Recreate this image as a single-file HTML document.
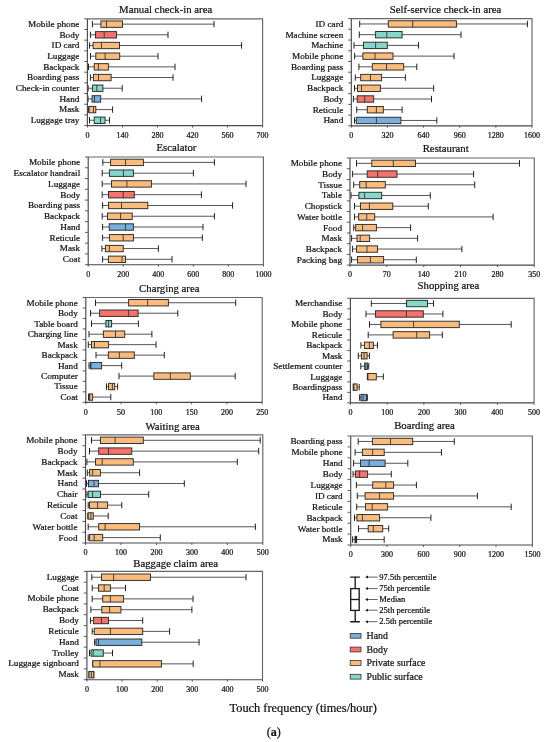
<!DOCTYPE html>
<html><head><meta charset="utf-8"><style>
html,body{margin:0;padding:0;background:#fff;width:550px;height:742px;overflow:hidden}
svg{display:block;will-change:transform}
text{font-family:"Liberation Serif",serif;fill:#111;stroke:#111;stroke-width:0.22px}
</style></head><body>
<svg width="550" height="742" viewBox="0 0 550 742">
<rect width="550" height="742" fill="#fff"/>
<text x="119.1" y="13" font-size="10.75">Manual check-in area</text>
<text x="79.4" y="27.04" font-size="9.2" text-anchor="end">Mobile phone</text>
<path d="M92.4 24.14H100.9M122.5 24.14H214" stroke="#555" stroke-width="1.0"/>
<path d="M92.4 20.94v6.4M214 20.94v6.4" stroke="#222" stroke-width="1.0"/>
<rect x="100.9" y="20.94" width="21.6" height="6.4" fill="#FBBB7C" stroke="#2a2a2a" stroke-width="0.95"/>
<path d="M106.5 20.94v6.4" stroke="#333" stroke-width="0.9"/>
<text x="79.4" y="37.72" font-size="9.2" text-anchor="end">Body</text>
<path d="M90.4 34.82H95.5M116.5 34.82H168" stroke="#555" stroke-width="1.0"/>
<path d="M90.4 31.62v6.4M168 31.62v6.4" stroke="#222" stroke-width="1.0"/>
<rect x="95.5" y="31.62" width="21" height="6.4" fill="#F5736A" stroke="#2a2a2a" stroke-width="0.95"/>
<path d="M104.2 31.62v6.4" stroke="#333" stroke-width="0.9"/>
<text x="79.4" y="48.4" font-size="9.2" text-anchor="end">ID card</text>
<path d="M89.6 45.5H93.1M119.5 45.5H241.6" stroke="#555" stroke-width="1.0"/>
<path d="M89.6 42.3v6.4M241.6 42.3v6.4" stroke="#222" stroke-width="1.0"/>
<rect x="93.1" y="42.3" width="26.4" height="6.4" fill="#FBBB7C" stroke="#2a2a2a" stroke-width="0.95"/>
<path d="M101.5 42.3v6.4" stroke="#333" stroke-width="0.9"/>
<text x="79.4" y="59.08" font-size="9.2" text-anchor="end">Luggage</text>
<path d="M90.5 56.18H95.8M119.7 56.18H158" stroke="#555" stroke-width="1.0"/>
<path d="M90.5 52.98v6.4M158 52.98v6.4" stroke="#222" stroke-width="1.0"/>
<rect x="95.8" y="52.98" width="23.9" height="6.4" fill="#FBBB7C" stroke="#2a2a2a" stroke-width="0.95"/>
<path d="M105.1 52.98v6.4" stroke="#333" stroke-width="0.9"/>
<text x="79.4" y="69.76" font-size="9.2" text-anchor="end">Backpack</text>
<path d="M88.5 66.86H94.2M108.4 66.86H175" stroke="#555" stroke-width="1.0"/>
<path d="M88.5 63.66v6.4M175 63.66v6.4" stroke="#222" stroke-width="1.0"/>
<rect x="94.2" y="63.66" width="14.2" height="6.4" fill="#FBBB7C" stroke="#2a2a2a" stroke-width="0.95"/>
<path d="M98.4 63.66v6.4" stroke="#333" stroke-width="0.9"/>
<text x="79.4" y="80.44" font-size="9.2" text-anchor="end">Boarding pass</text>
<path d="M90.4 77.54H93.4M111.1 77.54H173" stroke="#555" stroke-width="1.0"/>
<path d="M90.4 74.34v6.4M173 74.34v6.4" stroke="#222" stroke-width="1.0"/>
<rect x="93.4" y="74.34" width="17.7" height="6.4" fill="#FBBB7C" stroke="#2a2a2a" stroke-width="0.95"/>
<path d="M98.5 74.34v6.4" stroke="#333" stroke-width="0.9"/>
<text x="79.4" y="91.12" font-size="9.2" text-anchor="end">Check-in counter</text>
<path d="M88.1 88.22H92.6M102.9 88.22H122.2" stroke="#555" stroke-width="1.0"/>
<path d="M88.1 85.02v6.4M122.2 85.02v6.4" stroke="#222" stroke-width="1.0"/>
<rect x="92.6" y="85.02" width="10.3" height="6.4" fill="#84D8C9" stroke="#2a2a2a" stroke-width="0.95"/>
<path d="M96.8 85.02v6.4" stroke="#333" stroke-width="0.9"/>
<text x="79.4" y="101.8" font-size="9.2" text-anchor="end">Hand</text>
<path d="M88 98.9H92M100.7 98.9H201.6" stroke="#555" stroke-width="1.0"/>
<path d="M88 95.7v6.4M201.6 95.7v6.4" stroke="#222" stroke-width="1.0"/>
<rect x="92" y="95.7" width="8.7" height="6.4" fill="#79AEDD" stroke="#2a2a2a" stroke-width="0.95"/>
<path d="M94.5 95.7v6.4" stroke="#333" stroke-width="0.9"/>
<text x="79.4" y="112.48" font-size="9.2" text-anchor="end">Mask</text>
<path d="M88.3 109.58H89M95.8 109.58H112.6" stroke="#555" stroke-width="1.0"/>
<path d="M88.3 106.38v6.4M112.6 106.38v6.4" stroke="#222" stroke-width="1.0"/>
<rect x="89" y="106.38" width="6.8" height="6.4" fill="#FBBB7C" stroke="#2a2a2a" stroke-width="0.95"/>
<path d="M93.5 106.38v6.4" stroke="#333" stroke-width="0.9"/>
<text x="79.4" y="123.16" font-size="9.2" text-anchor="end">Luggage tray</text>
<path d="M89.5 120.26H94.2M105.1 120.26H109.5" stroke="#555" stroke-width="1.0"/>
<path d="M89.5 117.06v6.4M109.5 117.06v6.4" stroke="#222" stroke-width="1.0"/>
<rect x="94.2" y="117.06" width="10.9" height="6.4" fill="#84D8C9" stroke="#2a2a2a" stroke-width="0.95"/>
<path d="M100.5 117.06v6.4" stroke="#333" stroke-width="0.9"/>
<path d="M87.4 18.8h-3.2M87.4 29.48h-3.2M87.4 40.16h-3.2M87.4 50.84h-3.2M87.4 61.52h-3.2M87.4 72.2h-3.2M87.4 82.88h-3.2M87.4 93.56h-3.2M87.4 104.24h-3.2M87.4 114.92h-3.2M87.4 125.6h-3.2" stroke="#4a4a4a" stroke-width="0.9"/>
<path d="M87.4 18.8H262.6V125.6" stroke="#666" stroke-width="1.15" fill="none"/>
<path d="M87.4 18.8V125.6H262.6" stroke="#4a4a4a" stroke-width="1.15" fill="none"/>
<text x="87.4" y="137.9" font-size="8" text-anchor="middle">0</text>
<text x="122.44" y="137.9" font-size="8" text-anchor="middle">140</text>
<text x="157.48" y="137.9" font-size="8" text-anchor="middle">280</text>
<text x="192.52" y="137.9" font-size="8" text-anchor="middle">420</text>
<text x="227.56" y="137.9" font-size="8" text-anchor="middle">560</text>
<text x="262.6" y="137.9" font-size="8" text-anchor="middle">700</text>
<path d="M87.4 125.6v2M122.44 125.6v2M157.48 125.6v2M192.52 125.6v2M227.56 125.6v2M262.6 125.6v2" stroke="#4a4a4a" stroke-width="0.9"/>
<text x="389.7" y="12.8" font-size="10.75">Self-service check-in area</text>
<text x="343.3" y="26.86" font-size="9.2" text-anchor="end">ID card</text>
<path d="M359.7 23.96H388.3M456.4 23.96H527.4" stroke="#555" stroke-width="1.0"/>
<path d="M359.7 20.76v6.4M527.4 20.76v6.4" stroke="#222" stroke-width="1.0"/>
<rect x="388.3" y="20.76" width="68.1" height="6.4" fill="#FBBB7C" stroke="#2a2a2a" stroke-width="0.95"/>
<path d="M412.7 20.76v6.4" stroke="#333" stroke-width="0.9"/>
<text x="343.3" y="37.58" font-size="9.2" text-anchor="end">Machine screen</text>
<path d="M359.3 34.68H375.6M402.1 34.68H461" stroke="#555" stroke-width="1.0"/>
<path d="M359.3 31.48v6.4M461 31.48v6.4" stroke="#222" stroke-width="1.0"/>
<rect x="375.6" y="31.48" width="26.5" height="6.4" fill="#84D8C9" stroke="#2a2a2a" stroke-width="0.95"/>
<path d="M386.8 31.48v6.4" stroke="#333" stroke-width="0.9"/>
<text x="343.3" y="48.3" font-size="9.2" text-anchor="end">Machine</text>
<path d="M354 45.4H363.5M387.3 45.4H418.5" stroke="#555" stroke-width="1.0"/>
<path d="M354 42.2v6.4M418.5 42.2v6.4" stroke="#222" stroke-width="1.0"/>
<rect x="363.5" y="42.2" width="23.8" height="6.4" fill="#84D8C9" stroke="#2a2a2a" stroke-width="0.95"/>
<path d="M375.6 42.2v6.4" stroke="#333" stroke-width="0.9"/>
<text x="343.3" y="59.02" font-size="9.2" text-anchor="end">Mobile phone</text>
<path d="M354.6 56.12H362.9M393 56.12H454" stroke="#555" stroke-width="1.0"/>
<path d="M354.6 52.92v6.4M454 52.92v6.4" stroke="#222" stroke-width="1.0"/>
<rect x="362.9" y="52.92" width="30.1" height="6.4" fill="#FBBB7C" stroke="#2a2a2a" stroke-width="0.95"/>
<path d="M375 52.92v6.4" stroke="#333" stroke-width="0.9"/>
<text x="343.3" y="69.74" font-size="9.2" text-anchor="end">Boarding pass</text>
<path d="M358.9 66.84H372.3M403.7 66.84H416.8" stroke="#555" stroke-width="1.0"/>
<path d="M358.9 63.64v6.4M416.8 63.64v6.4" stroke="#222" stroke-width="1.0"/>
<rect x="372.3" y="63.64" width="31.4" height="6.4" fill="#FBBB7C" stroke="#2a2a2a" stroke-width="0.95"/>
<path d="M386.5 63.64v6.4" stroke="#333" stroke-width="0.9"/>
<text x="343.3" y="80.46" font-size="9.2" text-anchor="end">Luggage</text>
<path d="M355.3 77.56H360.7M381.6 77.56H405.4" stroke="#555" stroke-width="1.0"/>
<path d="M355.3 74.36v6.4M405.4 74.36v6.4" stroke="#222" stroke-width="1.0"/>
<rect x="360.7" y="74.36" width="20.9" height="6.4" fill="#FBBB7C" stroke="#2a2a2a" stroke-width="0.95"/>
<path d="M370.5 74.36v6.4" stroke="#333" stroke-width="0.9"/>
<text x="343.3" y="91.18" font-size="9.2" text-anchor="end">Backpack</text>
<path d="M354.5 88.28H357.5M380.4 88.28H433.7" stroke="#555" stroke-width="1.0"/>
<path d="M354.5 85.08v6.4M433.7 85.08v6.4" stroke="#222" stroke-width="1.0"/>
<rect x="357.5" y="85.08" width="22.9" height="6.4" fill="#FBBB7C" stroke="#2a2a2a" stroke-width="0.95"/>
<path d="M361.5 85.08v6.4" stroke="#333" stroke-width="0.9"/>
<text x="343.3" y="101.9" font-size="9.2" text-anchor="end">Body</text>
<path d="M353.4 99H357.2M373.7 99H431.5" stroke="#555" stroke-width="1.0"/>
<path d="M353.4 95.8v6.4M431.5 95.8v6.4" stroke="#222" stroke-width="1.0"/>
<rect x="357.2" y="95.8" width="16.5" height="6.4" fill="#F5736A" stroke="#2a2a2a" stroke-width="0.95"/>
<path d="M364.7 95.8v6.4" stroke="#333" stroke-width="0.9"/>
<text x="343.3" y="112.62" font-size="9.2" text-anchor="end">Reticule</text>
<path d="M356.7 109.72H367.3M383.3 109.72H402.1" stroke="#555" stroke-width="1.0"/>
<path d="M356.7 106.52v6.4M402.1 106.52v6.4" stroke="#222" stroke-width="1.0"/>
<rect x="367.3" y="106.52" width="16" height="6.4" fill="#FBBB7C" stroke="#2a2a2a" stroke-width="0.95"/>
<path d="M376.4 106.52v6.4" stroke="#333" stroke-width="0.9"/>
<text x="343.3" y="123.34" font-size="9.2" text-anchor="end">Hand</text>
<path d="M354.5 120.44H356.3M400.9 120.44H436.8" stroke="#555" stroke-width="1.0"/>
<path d="M354.5 117.24v6.4M436.8 117.24v6.4" stroke="#222" stroke-width="1.0"/>
<rect x="356.3" y="117.24" width="44.6" height="6.4" fill="#79AEDD" stroke="#2a2a2a" stroke-width="0.95"/>
<path d="M376.4 117.24v6.4" stroke="#333" stroke-width="0.9"/>
<path d="M351.3 18.6h-3.2M351.3 29.32h-3.2M351.3 40.04h-3.2M351.3 50.76h-3.2M351.3 61.48h-3.2M351.3 72.2h-3.2M351.3 82.92h-3.2M351.3 93.64h-3.2M351.3 104.36h-3.2M351.3 115.08h-3.2M351.3 125.8h-3.2" stroke="#4a4a4a" stroke-width="0.9"/>
<path d="M351.3 18.6H532V125.8" stroke="#666" stroke-width="1.15" fill="none"/>
<path d="M351.3 18.6V125.8H532" stroke="#4a4a4a" stroke-width="1.15" fill="none"/>
<text x="351.3" y="138.1" font-size="8" text-anchor="middle">0</text>
<text x="387.44" y="138.1" font-size="8" text-anchor="middle">320</text>
<text x="423.58" y="138.1" font-size="8" text-anchor="middle">640</text>
<text x="459.72" y="138.1" font-size="8" text-anchor="middle">960</text>
<text x="495.86" y="138.1" font-size="8" text-anchor="middle">1280</text>
<text x="532" y="138.1" font-size="8" text-anchor="middle">1600</text>
<path d="M351.3 125.8v2M387.44 125.8v2M423.58 125.8v2M459.72 125.8v2M495.86 125.8v2M532 125.8v2" stroke="#4a4a4a" stroke-width="0.9"/>
<text x="156.4" y="150.5" font-size="10.75">Escalator</text>
<text x="80.2" y="165.28" font-size="9.2" text-anchor="end">Mobile phone</text>
<path d="M102.8 162.38H110.6M143.4 162.38H214.4" stroke="#555" stroke-width="1.0"/>
<path d="M102.8 159.19v6.4M214.4 159.19v6.4" stroke="#222" stroke-width="1.0"/>
<rect x="110.6" y="159.19" width="32.8" height="6.4" fill="#FBBB7C" stroke="#2a2a2a" stroke-width="0.95"/>
<path d="M125.5 159.19v6.4" stroke="#333" stroke-width="0.9"/>
<text x="80.2" y="176.06" font-size="9.2" text-anchor="end">Escalator handrail</text>
<path d="M102.2 173.16H109.4M133.4 173.16H193.4" stroke="#555" stroke-width="1.0"/>
<path d="M102.2 169.96v6.4M193.4 169.96v6.4" stroke="#222" stroke-width="1.0"/>
<rect x="109.4" y="169.96" width="24" height="6.4" fill="#84D8C9" stroke="#2a2a2a" stroke-width="0.95"/>
<path d="M123.4 169.96v6.4" stroke="#333" stroke-width="0.9"/>
<text x="80.2" y="186.83" font-size="9.2" text-anchor="end">Luggage</text>
<path d="M102.2 183.93H111.5M151.4 183.93H246" stroke="#555" stroke-width="1.0"/>
<path d="M102.2 180.73v6.4M246 180.73v6.4" stroke="#222" stroke-width="1.0"/>
<rect x="111.5" y="180.73" width="39.9" height="6.4" fill="#FBBB7C" stroke="#2a2a2a" stroke-width="0.95"/>
<path d="M126.9 180.73v6.4" stroke="#333" stroke-width="0.9"/>
<text x="80.2" y="197.59" font-size="9.2" text-anchor="end">Body</text>
<path d="M102.2 194.69H108.5M134.3 194.69H201.4" stroke="#555" stroke-width="1.0"/>
<path d="M102.2 191.5v6.4M201.4 191.5v6.4" stroke="#222" stroke-width="1.0"/>
<rect x="108.5" y="191.5" width="25.8" height="6.4" fill="#F5736A" stroke="#2a2a2a" stroke-width="0.95"/>
<path d="M123.2 191.5v6.4" stroke="#333" stroke-width="0.9"/>
<text x="80.2" y="208.37" font-size="9.2" text-anchor="end">Boarding pass</text>
<path d="M102.6 205.47H108.5M147.8 205.47H232.6" stroke="#555" stroke-width="1.0"/>
<path d="M102.6 202.27v6.4M232.6 202.27v6.4" stroke="#222" stroke-width="1.0"/>
<rect x="108.5" y="202.27" width="39.3" height="6.4" fill="#FBBB7C" stroke="#2a2a2a" stroke-width="0.95"/>
<path d="M121.5 202.27v6.4" stroke="#333" stroke-width="0.9"/>
<text x="80.2" y="219.14" font-size="9.2" text-anchor="end">Backpack</text>
<path d="M102.2 216.24H107.5M132.2 216.24H214.4" stroke="#555" stroke-width="1.0"/>
<path d="M102.2 213.04v6.4M214.4 213.04v6.4" stroke="#222" stroke-width="1.0"/>
<rect x="107.5" y="213.04" width="24.7" height="6.4" fill="#FBBB7C" stroke="#2a2a2a" stroke-width="0.95"/>
<path d="M120.6 213.04v6.4" stroke="#333" stroke-width="0.9"/>
<text x="80.2" y="229.91" font-size="9.2" text-anchor="end">Hand</text>
<path d="M102.6 227H109.2M133.4 227H203" stroke="#555" stroke-width="1.0"/>
<path d="M102.6 223.81v6.4M203 223.81v6.4" stroke="#222" stroke-width="1.0"/>
<rect x="109.2" y="223.81" width="24.2" height="6.4" fill="#79AEDD" stroke="#2a2a2a" stroke-width="0.95"/>
<path d="M125.5 223.81v6.4" stroke="#333" stroke-width="0.9"/>
<text x="80.2" y="240.67" font-size="9.2" text-anchor="end">Reticule</text>
<path d="M102.6 237.77H109.4M133.4 237.77H202.4" stroke="#555" stroke-width="1.0"/>
<path d="M102.6 234.57v6.4M202.4 234.57v6.4" stroke="#222" stroke-width="1.0"/>
<rect x="109.4" y="234.57" width="24" height="6.4" fill="#FBBB7C" stroke="#2a2a2a" stroke-width="0.95"/>
<path d="M123.2 234.57v6.4" stroke="#333" stroke-width="0.9"/>
<text x="80.2" y="251.45" font-size="9.2" text-anchor="end">Mask</text>
<path d="M101.9 248.55H105.4M123.2 248.55H158.4" stroke="#555" stroke-width="1.0"/>
<path d="M101.9 245.35v6.4M158.4 245.35v6.4" stroke="#222" stroke-width="1.0"/>
<rect x="105.4" y="245.35" width="17.8" height="6.4" fill="#FBBB7C" stroke="#2a2a2a" stroke-width="0.95"/>
<path d="M109.4 245.35v6.4" stroke="#333" stroke-width="0.9"/>
<text x="80.2" y="262.21" font-size="9.2" text-anchor="end">Coat</text>
<path d="M102.6 259.31H108.4M125.5 259.31H172" stroke="#555" stroke-width="1.0"/>
<path d="M102.6 256.12v6.4M172 256.12v6.4" stroke="#222" stroke-width="1.0"/>
<rect x="108.4" y="256.12" width="17.1" height="6.4" fill="#FBBB7C" stroke="#2a2a2a" stroke-width="0.95"/>
<path d="M122 256.12v6.4" stroke="#333" stroke-width="0.9"/>
<path d="M88.2 157h-3.2M88.2 167.77h-3.2M88.2 178.54h-3.2M88.2 189.31h-3.2M88.2 200.08h-3.2M88.2 210.85h-3.2M88.2 221.62h-3.2M88.2 232.39h-3.2M88.2 243.16h-3.2M88.2 253.93h-3.2M88.2 264.7h-3.2" stroke="#4a4a4a" stroke-width="0.9"/>
<path d="M88.2 157H263.4V264.7" stroke="#666" stroke-width="1.15" fill="none"/>
<path d="M88.2 157V264.7H263.4" stroke="#4a4a4a" stroke-width="1.15" fill="none"/>
<text x="88.2" y="277" font-size="8" text-anchor="middle">0</text>
<text x="123.24" y="277" font-size="8" text-anchor="middle">200</text>
<text x="158.28" y="277" font-size="8" text-anchor="middle">400</text>
<text x="193.32" y="277" font-size="8" text-anchor="middle">600</text>
<text x="228.36" y="277" font-size="8" text-anchor="middle">800</text>
<text x="263.4" y="277" font-size="8" text-anchor="middle">1000</text>
<path d="M88.2 264.7v2M123.24 264.7v2M158.28 264.7v2M193.32 264.7v2M228.36 264.7v2M263.4 264.7v2" stroke="#4a4a4a" stroke-width="0.9"/>
<text x="422.7" y="151.9" font-size="10.75">Restaurant</text>
<text x="342" y="166.25" font-size="9.2" text-anchor="end">Mobile phone</text>
<path d="M356.5 163.35H371.8M415.5 163.35H519.5" stroke="#555" stroke-width="1.0"/>
<path d="M356.5 160.16v6.4M519.5 160.16v6.4" stroke="#222" stroke-width="1.0"/>
<rect x="371.8" y="160.16" width="43.7" height="6.4" fill="#FBBB7C" stroke="#2a2a2a" stroke-width="0.95"/>
<path d="M393.3 160.16v6.4" stroke="#333" stroke-width="0.9"/>
<text x="342" y="176.97" font-size="9.2" text-anchor="end">Body</text>
<path d="M352.6 174.06H367.2M397 174.06H473.6" stroke="#555" stroke-width="1.0"/>
<path d="M352.6 170.87v6.4M473.6 170.87v6.4" stroke="#222" stroke-width="1.0"/>
<rect x="367.2" y="170.87" width="29.8" height="6.4" fill="#F5736A" stroke="#2a2a2a" stroke-width="0.95"/>
<path d="M377.7 170.87v6.4" stroke="#333" stroke-width="0.9"/>
<text x="342" y="187.68" font-size="9.2" text-anchor="end">Tissue</text>
<path d="M353.7 184.78H359.7M385.3 184.78H474.7" stroke="#555" stroke-width="1.0"/>
<path d="M353.7 181.58v6.4M474.7 181.58v6.4" stroke="#222" stroke-width="1.0"/>
<rect x="359.7" y="181.58" width="25.6" height="6.4" fill="#FBBB7C" stroke="#2a2a2a" stroke-width="0.95"/>
<path d="M366.2 181.58v6.4" stroke="#333" stroke-width="0.9"/>
<text x="342" y="198.39" font-size="9.2" text-anchor="end">Table</text>
<path d="M351 195.49H358.9M381.7 195.49H430.3" stroke="#555" stroke-width="1.0"/>
<path d="M351 192.29v6.4M430.3 192.29v6.4" stroke="#222" stroke-width="1.0"/>
<rect x="358.9" y="192.29" width="22.8" height="6.4" fill="#84D8C9" stroke="#2a2a2a" stroke-width="0.95"/>
<path d="M364.6 192.29v6.4" stroke="#333" stroke-width="0.9"/>
<text x="342" y="209.1" font-size="9.2" text-anchor="end">Chopstick</text>
<path d="M354.5 206.2H360.5M392.8 206.2H428.3" stroke="#555" stroke-width="1.0"/>
<path d="M354.5 203v6.4M428.3 203v6.4" stroke="#222" stroke-width="1.0"/>
<rect x="360.5" y="203" width="32.3" height="6.4" fill="#FBBB7C" stroke="#2a2a2a" stroke-width="0.95"/>
<path d="M369.4 203v6.4" stroke="#333" stroke-width="0.9"/>
<text x="342" y="219.81" font-size="9.2" text-anchor="end">Water bottle</text>
<path d="M354.5 216.91H358.6M374.7 216.91H493.1" stroke="#555" stroke-width="1.0"/>
<path d="M354.5 213.71v6.4M493.1 213.71v6.4" stroke="#222" stroke-width="1.0"/>
<rect x="358.6" y="213.71" width="16.1" height="6.4" fill="#FBBB7C" stroke="#2a2a2a" stroke-width="0.95"/>
<path d="M366.7 213.71v6.4" stroke="#333" stroke-width="0.9"/>
<text x="342" y="230.52" font-size="9.2" text-anchor="end">Food</text>
<path d="M353.7 227.62H355.7M376.4 227.62H410.6" stroke="#555" stroke-width="1.0"/>
<path d="M353.7 224.42v6.4M410.6 224.42v6.4" stroke="#222" stroke-width="1.0"/>
<rect x="355.7" y="224.42" width="20.7" height="6.4" fill="#FBBB7C" stroke="#2a2a2a" stroke-width="0.95"/>
<path d="M362.6 224.42v6.4" stroke="#333" stroke-width="0.9"/>
<text x="342" y="241.23" font-size="9.2" text-anchor="end">Mask</text>
<path d="M351.6 238.33H357M369.6 238.33H417.6" stroke="#555" stroke-width="1.0"/>
<path d="M351.6 235.13v6.4M417.6 235.13v6.4" stroke="#222" stroke-width="1.0"/>
<rect x="357" y="235.13" width="12.6" height="6.4" fill="#FBBB7C" stroke="#2a2a2a" stroke-width="0.95"/>
<path d="M360.2 235.13v6.4" stroke="#333" stroke-width="0.9"/>
<text x="342" y="251.94" font-size="9.2" text-anchor="end">Backpack</text>
<path d="M352.6 249.04H356.5M377.5 249.04H461.9" stroke="#555" stroke-width="1.0"/>
<path d="M352.6 245.84v6.4M461.9 245.84v6.4" stroke="#222" stroke-width="1.0"/>
<rect x="356.5" y="245.84" width="21" height="6.4" fill="#FBBB7C" stroke="#2a2a2a" stroke-width="0.95"/>
<path d="M367 245.84v6.4" stroke="#333" stroke-width="0.9"/>
<text x="342" y="262.64" font-size="9.2" text-anchor="end">Packing bag</text>
<path d="M351.6 259.75H357.5M383.6 259.75H416.3" stroke="#555" stroke-width="1.0"/>
<path d="M351.6 256.55v6.4M416.3 256.55v6.4" stroke="#222" stroke-width="1.0"/>
<rect x="357.5" y="256.55" width="26.1" height="6.4" fill="#FBBB7C" stroke="#2a2a2a" stroke-width="0.95"/>
<path d="M370.4 256.55v6.4" stroke="#333" stroke-width="0.9"/>
<path d="M350 158h-3.2M350 168.71h-3.2M350 179.42h-3.2M350 190.13h-3.2M350 200.84h-3.2M350 211.55h-3.2M350 222.26h-3.2M350 232.97h-3.2M350 243.68h-3.2M350 254.39h-3.2M350 265.1h-3.2" stroke="#4a4a4a" stroke-width="0.9"/>
<path d="M350 158H534.3V265.1" stroke="#666" stroke-width="1.15" fill="none"/>
<path d="M350 158V265.1H534.3" stroke="#4a4a4a" stroke-width="1.15" fill="none"/>
<text x="350" y="277.4" font-size="8" text-anchor="middle">0</text>
<text x="386.86" y="277.4" font-size="8" text-anchor="middle">70</text>
<text x="423.72" y="277.4" font-size="8" text-anchor="middle">140</text>
<text x="460.58" y="277.4" font-size="8" text-anchor="middle">210</text>
<text x="497.44" y="277.4" font-size="8" text-anchor="middle">280</text>
<text x="534.3" y="277.4" font-size="8" text-anchor="middle">350</text>
<path d="M350 265.1v2M386.86 265.1v2M423.72 265.1v2M460.58 265.1v2M497.44 265.1v2M534.3 265.1v2" stroke="#4a4a4a" stroke-width="0.9"/>
<text x="139.1" y="291.7" font-size="10.75">Charging area</text>
<text x="77.8" y="305.64" font-size="9.2" text-anchor="end">Mobile phone</text>
<path d="M95.5 302.74H128.6M168.4 302.74H235.7" stroke="#555" stroke-width="1.0"/>
<path d="M95.5 299.54v6.4M235.7 299.54v6.4" stroke="#222" stroke-width="1.0"/>
<rect x="128.6" y="299.54" width="39.8" height="6.4" fill="#FBBB7C" stroke="#2a2a2a" stroke-width="0.95"/>
<path d="M147.7 299.54v6.4" stroke="#333" stroke-width="0.9"/>
<text x="77.8" y="316.12" font-size="9.2" text-anchor="end">Body</text>
<path d="M90.6 313.22H99.6M138.1 313.22H177.8" stroke="#555" stroke-width="1.0"/>
<path d="M90.6 310.02v6.4M177.8 310.02v6.4" stroke="#222" stroke-width="1.0"/>
<rect x="99.6" y="310.02" width="38.5" height="6.4" fill="#F5736A" stroke="#2a2a2a" stroke-width="0.95"/>
<path d="M128.6 310.02v6.4" stroke="#333" stroke-width="0.9"/>
<text x="77.8" y="326.6" font-size="9.2" text-anchor="end">Table board</text>
<path d="M91.5 323.7H105.9M111.6 323.7H138.4" stroke="#555" stroke-width="1.0"/>
<path d="M91.5 320.5v6.4M138.4 320.5v6.4" stroke="#222" stroke-width="1.0"/>
<rect x="105.9" y="320.5" width="5.7" height="6.4" fill="#84D8C9" stroke="#2a2a2a" stroke-width="0.95"/>
<path d="M108.6 320.5v6.4" stroke="#333" stroke-width="0.9"/>
<text x="77.8" y="337.08" font-size="9.2" text-anchor="end">Charging line</text>
<path d="M89 334.18H103.4M124.7 334.18H151.9" stroke="#555" stroke-width="1.0"/>
<path d="M89 330.98v6.4M151.9 330.98v6.4" stroke="#222" stroke-width="1.0"/>
<rect x="103.4" y="330.98" width="21.3" height="6.4" fill="#FBBB7C" stroke="#2a2a2a" stroke-width="0.95"/>
<path d="M115.5 330.98v6.4" stroke="#333" stroke-width="0.9"/>
<text x="77.8" y="347.56" font-size="9.2" text-anchor="end">Mask</text>
<path d="M88.3 344.66H91.5M108.6 344.66H156" stroke="#555" stroke-width="1.0"/>
<path d="M88.3 341.46v6.4M156 341.46v6.4" stroke="#222" stroke-width="1.0"/>
<rect x="91.5" y="341.46" width="17.1" height="6.4" fill="#FBBB7C" stroke="#2a2a2a" stroke-width="0.95"/>
<path d="M94.5 341.46v6.4" stroke="#333" stroke-width="0.9"/>
<text x="77.8" y="358.04" font-size="9.2" text-anchor="end">Backpack</text>
<path d="M96 355.14H108.3M134.3 355.14H164.3" stroke="#555" stroke-width="1.0"/>
<path d="M96 351.94v6.4M164.3 351.94v6.4" stroke="#222" stroke-width="1.0"/>
<rect x="108.3" y="351.94" width="26" height="6.4" fill="#FBBB7C" stroke="#2a2a2a" stroke-width="0.95"/>
<path d="M119.3 351.94v6.4" stroke="#333" stroke-width="0.9"/>
<text x="77.8" y="368.52" font-size="9.2" text-anchor="end">Hand</text>
<path d="M89 365.62H90.3M101.6 365.62H121.7" stroke="#555" stroke-width="1.0"/>
<path d="M89 362.42v6.4M121.7 362.42v6.4" stroke="#222" stroke-width="1.0"/>
<rect x="90.3" y="362.42" width="11.3" height="6.4" fill="#79AEDD" stroke="#2a2a2a" stroke-width="0.95"/>
<path d="M91 362.42v6.4" stroke="#333" stroke-width="0.9"/>
<text x="77.8" y="379" font-size="9.2" text-anchor="end">Computer</text>
<path d="M119 376.1H153.8M190.3 376.1H235.2" stroke="#555" stroke-width="1.0"/>
<path d="M119 372.9v6.4M235.2 372.9v6.4" stroke="#222" stroke-width="1.0"/>
<rect x="153.8" y="372.9" width="36.5" height="6.4" fill="#FBBB7C" stroke="#2a2a2a" stroke-width="0.95"/>
<path d="M170.3 372.9v6.4" stroke="#333" stroke-width="0.9"/>
<text x="77.8" y="389.48" font-size="9.2" text-anchor="end">Tissue</text>
<path d="M106.5 386.58H108.6M114.7 386.58H117.6" stroke="#555" stroke-width="1.0"/>
<path d="M106.5 383.38v6.4M117.6 383.38v6.4" stroke="#222" stroke-width="1.0"/>
<rect x="108.6" y="383.38" width="6.1" height="6.4" fill="#FBBB7C" stroke="#2a2a2a" stroke-width="0.95"/>
<path d="M112.4 383.38v6.4" stroke="#333" stroke-width="0.9"/>
<text x="77.8" y="399.96" font-size="9.2" text-anchor="end">Coat</text>
<path d="M88.5 397.06H89M92.6 397.06H110.8" stroke="#555" stroke-width="1.0"/>
<path d="M88.5 393.86v6.4M110.8 393.86v6.4" stroke="#222" stroke-width="1.0"/>
<rect x="89" y="393.86" width="3.6" height="6.4" fill="#FBBB7C" stroke="#2a2a2a" stroke-width="0.95"/>
<path d="M89.8 393.86v6.4" stroke="#333" stroke-width="0.9"/>
<path d="M85.8 297.5h-3.2M85.8 307.98h-3.2M85.8 318.46h-3.2M85.8 328.94h-3.2M85.8 339.42h-3.2M85.8 349.9h-3.2M85.8 360.38h-3.2M85.8 370.86h-3.2M85.8 381.34h-3.2M85.8 391.82h-3.2M85.8 402.3h-3.2" stroke="#4a4a4a" stroke-width="0.9"/>
<path d="M85.8 297.5H262.2V402.3" stroke="#666" stroke-width="1.15" fill="none"/>
<path d="M85.8 297.5V402.3H262.2" stroke="#4a4a4a" stroke-width="1.15" fill="none"/>
<text x="85.8" y="414.6" font-size="8" text-anchor="middle">0</text>
<text x="121.08" y="414.6" font-size="8" text-anchor="middle">50</text>
<text x="156.36" y="414.6" font-size="8" text-anchor="middle">100</text>
<text x="191.64" y="414.6" font-size="8" text-anchor="middle">150</text>
<text x="226.92" y="414.6" font-size="8" text-anchor="middle">200</text>
<text x="262.2" y="414.6" font-size="8" text-anchor="middle">250</text>
<path d="M85.8 402.3v2M121.08 402.3v2M156.36 402.3v2M191.64 402.3v2M226.92 402.3v2M262.2 402.3v2" stroke="#4a4a4a" stroke-width="0.9"/>
<text x="417.6" y="288.6" font-size="10.75">Shopping area</text>
<text x="342.4" y="306.43" font-size="9.2" text-anchor="end">Merchandise</text>
<path d="M371.3 303.53H406.4M427.5 303.53H433.5" stroke="#555" stroke-width="1.0"/>
<path d="M371.3 300.33v6.4M433.5 300.33v6.4" stroke="#222" stroke-width="1.0"/>
<rect x="406.4" y="300.33" width="21.1" height="6.4" fill="#84D8C9" stroke="#2a2a2a" stroke-width="0.95"/>
<path d="M406.6 300.33v6.4" stroke="#333" stroke-width="0.9"/>
<text x="342.4" y="316.88" font-size="9.2" text-anchor="end">Body</text>
<path d="M366 313.98H375.5M423.3 313.98H442.9" stroke="#555" stroke-width="1.0"/>
<path d="M366 310.78v6.4M442.9 310.78v6.4" stroke="#222" stroke-width="1.0"/>
<rect x="375.5" y="310.78" width="47.8" height="6.4" fill="#F5736A" stroke="#2a2a2a" stroke-width="0.95"/>
<path d="M406.4 310.78v6.4" stroke="#333" stroke-width="0.9"/>
<text x="342.4" y="327.32" font-size="9.2" text-anchor="end">Mobile phone</text>
<path d="M369.5 324.43H380.9M459.3 324.43H511.2" stroke="#555" stroke-width="1.0"/>
<path d="M369.5 321.23v6.4M511.2 321.23v6.4" stroke="#222" stroke-width="1.0"/>
<rect x="380.9" y="321.23" width="78.4" height="6.4" fill="#FBBB7C" stroke="#2a2a2a" stroke-width="0.95"/>
<path d="M413.6 321.23v6.4" stroke="#333" stroke-width="0.9"/>
<text x="342.4" y="337.77" font-size="9.2" text-anchor="end">Reticule</text>
<path d="M368.2 334.88H393.1M429.6 334.88H442.3" stroke="#555" stroke-width="1.0"/>
<path d="M368.2 331.68v6.4M442.3 331.68v6.4" stroke="#222" stroke-width="1.0"/>
<rect x="393.1" y="331.68" width="36.5" height="6.4" fill="#FBBB7C" stroke="#2a2a2a" stroke-width="0.95"/>
<path d="M416.7 331.68v6.4" stroke="#333" stroke-width="0.9"/>
<text x="342.4" y="348.22" font-size="9.2" text-anchor="end">Backpack</text>
<path d="M360.9 345.32H364.4M373.4 345.32H377.5" stroke="#555" stroke-width="1.0"/>
<path d="M360.9 342.12v6.4M377.5 342.12v6.4" stroke="#222" stroke-width="1.0"/>
<rect x="364.4" y="342.12" width="9" height="6.4" fill="#FBBB7C" stroke="#2a2a2a" stroke-width="0.95"/>
<path d="M369.4 342.12v6.4" stroke="#333" stroke-width="0.9"/>
<text x="342.4" y="358.67" font-size="9.2" text-anchor="end">Mask</text>
<path d="M358.3 355.77H361.4M367.1 355.77H369.4" stroke="#555" stroke-width="1.0"/>
<path d="M358.3 352.57v6.4M369.4 352.57v6.4" stroke="#222" stroke-width="1.0"/>
<rect x="361.4" y="352.57" width="5.7" height="6.4" fill="#FBBB7C" stroke="#2a2a2a" stroke-width="0.95"/>
<path d="M364.1 352.57v6.4" stroke="#333" stroke-width="0.9"/>
<text x="342.4" y="369.12" font-size="9.2" text-anchor="end">Settlement counter</text>
<path d="M360.8 366.23H364.6M367.4 366.23H368.7" stroke="#555" stroke-width="1.0"/>
<path d="M360.8 363.03v6.4M368.7 363.03v6.4" stroke="#222" stroke-width="1.0"/>
<rect x="364.6" y="363.03" width="2.8" height="6.4" fill="#84D8C9" stroke="#2a2a2a" stroke-width="0.95"/>
<path d="M365.8 363.03v6.4" stroke="#333" stroke-width="0.9"/>
<text x="342.4" y="379.57" font-size="9.2" text-anchor="end">Luggage</text>
<path d="M367.4 376.68H367.4M376.3 376.68H383.3" stroke="#555" stroke-width="1.0"/>
<path d="M367.4 373.48v6.4M383.3 373.48v6.4" stroke="#222" stroke-width="1.0"/>
<rect x="367.4" y="373.48" width="8.9" height="6.4" fill="#FBBB7C" stroke="#2a2a2a" stroke-width="0.95"/>
<path d="M367.9 373.48v6.4" stroke="#333" stroke-width="0.9"/>
<text x="342.4" y="390.02" font-size="9.2" text-anchor="end">Boardingpass</text>
<path d="M353.3 387.12H353.3M357.1 387.12H359.2" stroke="#555" stroke-width="1.0"/>
<path d="M353.3 383.93v6.4M359.2 383.93v6.4" stroke="#222" stroke-width="1.0"/>
<rect x="353.3" y="383.93" width="3.8" height="6.4" fill="#FBBB7C" stroke="#2a2a2a" stroke-width="0.95"/>
<path d="M353.9 383.93v6.4" stroke="#333" stroke-width="0.9"/>
<text x="342.4" y="400.47" font-size="9.2" text-anchor="end">Hand</text>
<path d="M359.6 397.57H360.9M366.4 397.57H367.4" stroke="#555" stroke-width="1.0"/>
<path d="M359.6 394.38v6.4M367.4 394.38v6.4" stroke="#222" stroke-width="1.0"/>
<rect x="360.9" y="394.38" width="5.5" height="6.4" fill="#79AEDD" stroke="#2a2a2a" stroke-width="0.95"/>
<path d="M363.1 394.38v6.4" stroke="#333" stroke-width="0.9"/>
<path d="M350.4 298.3h-3.2M350.4 308.75h-3.2M350.4 319.2h-3.2M350.4 329.65h-3.2M350.4 340.1h-3.2M350.4 350.55h-3.2M350.4 361h-3.2M350.4 371.45h-3.2M350.4 381.9h-3.2M350.4 392.35h-3.2M350.4 402.8h-3.2" stroke="#4a4a4a" stroke-width="0.9"/>
<path d="M350.4 298.3H534.1V402.8" stroke="#666" stroke-width="1.15" fill="none"/>
<path d="M350.4 298.3V402.8H534.1" stroke="#4a4a4a" stroke-width="1.15" fill="none"/>
<text x="350.4" y="415.1" font-size="8" text-anchor="middle">0</text>
<text x="387.14" y="415.1" font-size="8" text-anchor="middle">100</text>
<text x="423.88" y="415.1" font-size="8" text-anchor="middle">200</text>
<text x="460.62" y="415.1" font-size="8" text-anchor="middle">300</text>
<text x="497.36" y="415.1" font-size="8" text-anchor="middle">400</text>
<text x="534.1" y="415.1" font-size="8" text-anchor="middle">500</text>
<path d="M350.4 402.8v2M387.14 402.8v2M423.88 402.8v2M460.62 402.8v2M497.36 402.8v2M534.1 402.8v2" stroke="#4a4a4a" stroke-width="0.9"/>
<text x="145.5" y="429.6" font-size="10.75">Waiting area</text>
<text x="77.5" y="443.2" font-size="9.2" text-anchor="end">Mobile phone</text>
<path d="M91.5 440.3H100.4M143.3 440.3H260.2" stroke="#555" stroke-width="1.0"/>
<path d="M91.5 437.1v6.4M260.2 437.1v6.4" stroke="#222" stroke-width="1.0"/>
<rect x="100.4" y="437.1" width="42.9" height="6.4" fill="#FBBB7C" stroke="#2a2a2a" stroke-width="0.95"/>
<path d="M115.1 437.1v6.4" stroke="#333" stroke-width="0.9"/>
<text x="77.5" y="454.01" font-size="9.2" text-anchor="end">Body</text>
<path d="M89.5 451.12H98.7M131.8 451.12H258.7" stroke="#555" stroke-width="1.0"/>
<path d="M89.5 447.92v6.4M258.7 447.92v6.4" stroke="#222" stroke-width="1.0"/>
<rect x="98.7" y="447.92" width="33.1" height="6.4" fill="#F5736A" stroke="#2a2a2a" stroke-width="0.95"/>
<path d="M108.5 447.92v6.4" stroke="#333" stroke-width="0.9"/>
<text x="77.5" y="464.82" font-size="9.2" text-anchor="end">Backpack</text>
<path d="M86.9 461.92H95.5M133.3 461.92H237.3" stroke="#555" stroke-width="1.0"/>
<path d="M86.9 458.72v6.4M237.3 458.72v6.4" stroke="#222" stroke-width="1.0"/>
<rect x="95.5" y="458.72" width="37.8" height="6.4" fill="#FBBB7C" stroke="#2a2a2a" stroke-width="0.95"/>
<path d="M102.2 458.72v6.4" stroke="#333" stroke-width="0.9"/>
<text x="77.5" y="475.63" font-size="9.2" text-anchor="end">Mask</text>
<path d="M87.3 472.74H89.6M100.4 472.74H139.6" stroke="#555" stroke-width="1.0"/>
<path d="M87.3 469.54v6.4M139.6 469.54v6.4" stroke="#222" stroke-width="1.0"/>
<rect x="89.6" y="469.54" width="10.8" height="6.4" fill="#FBBB7C" stroke="#2a2a2a" stroke-width="0.95"/>
<path d="M92.7 469.54v6.4" stroke="#333" stroke-width="0.9"/>
<text x="77.5" y="486.44" font-size="9.2" text-anchor="end">Hand</text>
<path d="M86.5 483.54H88.5M98.5 483.54H184.3" stroke="#555" stroke-width="1.0"/>
<path d="M86.5 480.34v6.4M184.3 480.34v6.4" stroke="#222" stroke-width="1.0"/>
<rect x="88.5" y="480.34" width="10" height="6.4" fill="#79AEDD" stroke="#2a2a2a" stroke-width="0.95"/>
<path d="M94 480.34v6.4" stroke="#333" stroke-width="0.9"/>
<text x="77.5" y="497.25" font-size="9.2" text-anchor="end">Chair</text>
<path d="M86.9 494.36H88.2M100.5 494.36H148.7" stroke="#555" stroke-width="1.0"/>
<path d="M86.9 491.16v6.4M148.7 491.16v6.4" stroke="#222" stroke-width="1.0"/>
<rect x="88.2" y="491.16" width="12.3" height="6.4" fill="#84D8C9" stroke="#2a2a2a" stroke-width="0.95"/>
<path d="M92.6 491.16v6.4" stroke="#333" stroke-width="0.9"/>
<text x="77.5" y="508.06" font-size="9.2" text-anchor="end">Reticule</text>
<path d="M88.2 505.16H89.5M107.6 505.16H121.8" stroke="#555" stroke-width="1.0"/>
<path d="M88.2 501.96v6.4M121.8 501.96v6.4" stroke="#222" stroke-width="1.0"/>
<rect x="89.5" y="501.96" width="18.1" height="6.4" fill="#FBBB7C" stroke="#2a2a2a" stroke-width="0.95"/>
<path d="M97.6 501.96v6.4" stroke="#333" stroke-width="0.9"/>
<text x="77.5" y="518.88" font-size="9.2" text-anchor="end">Coat</text>
<path d="M87.8 515.98H88.2M93.3 515.98H108.2" stroke="#555" stroke-width="1.0"/>
<path d="M87.8 512.77v6.4M108.2 512.77v6.4" stroke="#222" stroke-width="1.0"/>
<rect x="88.2" y="512.77" width="5.1" height="6.4" fill="#FBBB7C" stroke="#2a2a2a" stroke-width="0.95"/>
<path d="M90.9 512.77v6.4" stroke="#333" stroke-width="0.9"/>
<text x="77.5" y="529.68" font-size="9.2" text-anchor="end">Water bottle</text>
<path d="M88.2 526.78H98.7M139.5 526.78H255.4" stroke="#555" stroke-width="1.0"/>
<path d="M88.2 523.58v6.4M255.4 523.58v6.4" stroke="#222" stroke-width="1.0"/>
<rect x="98.7" y="523.58" width="40.8" height="6.4" fill="#FBBB7C" stroke="#2a2a2a" stroke-width="0.95"/>
<path d="M105.1 523.58v6.4" stroke="#333" stroke-width="0.9"/>
<text x="77.5" y="540.5" font-size="9.2" text-anchor="end">Food</text>
<path d="M88.2 537.6H89.6M102.7 537.6H160.3" stroke="#555" stroke-width="1.0"/>
<path d="M88.2 534.39v6.4M160.3 534.39v6.4" stroke="#222" stroke-width="1.0"/>
<rect x="89.6" y="534.39" width="13.1" height="6.4" fill="#FBBB7C" stroke="#2a2a2a" stroke-width="0.95"/>
<path d="M94.2 534.39v6.4" stroke="#333" stroke-width="0.9"/>
<path d="M85.5 434.9h-3.2M85.5 445.71h-3.2M85.5 456.52h-3.2M85.5 467.33h-3.2M85.5 478.14h-3.2M85.5 488.95h-3.2M85.5 499.76h-3.2M85.5 510.57h-3.2M85.5 521.38h-3.2M85.5 532.19h-3.2M85.5 543h-3.2" stroke="#4a4a4a" stroke-width="0.9"/>
<path d="M85.5 434.9H262.8V543" stroke="#666" stroke-width="1.15" fill="none"/>
<path d="M85.5 434.9V543H262.8" stroke="#4a4a4a" stroke-width="1.15" fill="none"/>
<text x="85.5" y="555.3" font-size="8" text-anchor="middle">0</text>
<text x="120.96" y="555.3" font-size="8" text-anchor="middle">100</text>
<text x="156.42" y="555.3" font-size="8" text-anchor="middle">200</text>
<text x="191.88" y="555.3" font-size="8" text-anchor="middle">300</text>
<text x="227.34" y="555.3" font-size="8" text-anchor="middle">400</text>
<text x="262.8" y="555.3" font-size="8" text-anchor="middle">500</text>
<path d="M85.5 543v2M120.96 543v2M156.42 543v2M191.88 543v2M227.34 543v2M262.8 543v2" stroke="#4a4a4a" stroke-width="0.9"/>
<text x="394.2" y="428.7" font-size="10.75">Boarding area</text>
<text x="342.7" y="444.35" font-size="9.2" text-anchor="end">Boarding pass</text>
<path d="M358.2 441.45H372.4M412.7 441.45H454.3" stroke="#555" stroke-width="1.0"/>
<path d="M358.2 438.25v6.4M454.3 438.25v6.4" stroke="#222" stroke-width="1.0"/>
<rect x="372.4" y="438.25" width="40.3" height="6.4" fill="#FBBB7C" stroke="#2a2a2a" stroke-width="0.95"/>
<path d="M390.5 438.25v6.4" stroke="#333" stroke-width="0.9"/>
<text x="342.7" y="455.25" font-size="9.2" text-anchor="end">Mobile phone</text>
<path d="M355.1 452.35H362.4M384.2 452.35H441.4" stroke="#555" stroke-width="1.0"/>
<path d="M355.1 449.15v6.4M441.4 449.15v6.4" stroke="#222" stroke-width="1.0"/>
<rect x="362.4" y="449.15" width="21.8" height="6.4" fill="#FBBB7C" stroke="#2a2a2a" stroke-width="0.95"/>
<path d="M372.7 449.15v6.4" stroke="#333" stroke-width="0.9"/>
<text x="342.7" y="466.15" font-size="9.2" text-anchor="end">Hand</text>
<path d="M353.6 463.25H360.5M385.1 463.25H407.8" stroke="#555" stroke-width="1.0"/>
<path d="M353.6 460.05v6.4M407.8 460.05v6.4" stroke="#222" stroke-width="1.0"/>
<rect x="360.5" y="460.05" width="24.6" height="6.4" fill="#79AEDD" stroke="#2a2a2a" stroke-width="0.95"/>
<path d="M369.1 460.05v6.4" stroke="#333" stroke-width="0.9"/>
<text x="342.7" y="477.05" font-size="9.2" text-anchor="end">Body</text>
<path d="M353.1 474.15H355.5M367.6 474.15H391.3" stroke="#555" stroke-width="1.0"/>
<path d="M353.1 470.95v6.4M391.3 470.95v6.4" stroke="#222" stroke-width="1.0"/>
<rect x="355.5" y="470.95" width="12.1" height="6.4" fill="#F5736A" stroke="#2a2a2a" stroke-width="0.95"/>
<path d="M359.6 470.95v6.4" stroke="#333" stroke-width="0.9"/>
<text x="342.7" y="487.95" font-size="9.2" text-anchor="end">Luggage</text>
<path d="M356.4 485.05H372.7M393.6 485.05H416.4" stroke="#555" stroke-width="1.0"/>
<path d="M356.4 481.85v6.4M416.4 481.85v6.4" stroke="#222" stroke-width="1.0"/>
<rect x="372.7" y="481.85" width="20.9" height="6.4" fill="#FBBB7C" stroke="#2a2a2a" stroke-width="0.95"/>
<path d="M385.8 481.85v6.4" stroke="#333" stroke-width="0.9"/>
<text x="342.7" y="498.85" font-size="9.2" text-anchor="end">ID card</text>
<path d="M357.3 495.95H365.1M393.6 495.95H477.4" stroke="#555" stroke-width="1.0"/>
<path d="M357.3 492.75v6.4M477.4 492.75v6.4" stroke="#222" stroke-width="1.0"/>
<rect x="365.1" y="492.75" width="28.5" height="6.4" fill="#FBBB7C" stroke="#2a2a2a" stroke-width="0.95"/>
<path d="M379.5 492.75v6.4" stroke="#333" stroke-width="0.9"/>
<text x="342.7" y="509.75" font-size="9.2" text-anchor="end">Reticule</text>
<path d="M356.7 506.85H365.5M387.6 506.85H511.2" stroke="#555" stroke-width="1.0"/>
<path d="M356.7 503.65v6.4M511.2 503.65v6.4" stroke="#222" stroke-width="1.0"/>
<rect x="365.5" y="503.65" width="22.1" height="6.4" fill="#FBBB7C" stroke="#2a2a2a" stroke-width="0.95"/>
<path d="M372.2 503.65v6.4" stroke="#333" stroke-width="0.9"/>
<text x="342.7" y="520.65" font-size="9.2" text-anchor="end">Backpack</text>
<path d="M354.5 517.75H356.9M379.6 517.75H430.9" stroke="#555" stroke-width="1.0"/>
<path d="M354.5 514.55v6.4M430.9 514.55v6.4" stroke="#222" stroke-width="1.0"/>
<rect x="356.9" y="514.55" width="22.7" height="6.4" fill="#FBBB7C" stroke="#2a2a2a" stroke-width="0.95"/>
<path d="M362.4 514.55v6.4" stroke="#333" stroke-width="0.9"/>
<text x="342.7" y="531.55" font-size="9.2" text-anchor="end">Water bottle</text>
<path d="M358.5 528.65H368.2M382.7 528.65H388.7" stroke="#555" stroke-width="1.0"/>
<path d="M358.5 525.45v6.4M388.7 525.45v6.4" stroke="#222" stroke-width="1.0"/>
<rect x="368.2" y="525.45" width="14.5" height="6.4" fill="#FBBB7C" stroke="#2a2a2a" stroke-width="0.95"/>
<path d="M373.3 525.45v6.4" stroke="#333" stroke-width="0.9"/>
<text x="342.7" y="542.45" font-size="9.2" text-anchor="end">Mask</text>
<path d="M352.6 539.55H355M356.7 539.55H384.2" stroke="#555" stroke-width="1.0"/>
<path d="M352.6 536.35v6.4M384.2 536.35v6.4" stroke="#222" stroke-width="1.0"/>
<rect x="355" y="536.35" width="1.7" height="6.4" fill="#111" stroke="#2a2a2a" stroke-width="0.95"/>
<path d="M355.8 536.35v6.4" stroke="#333" stroke-width="0.9"/>
<path d="M350.7 436h-3.2M350.7 446.9h-3.2M350.7 457.8h-3.2M350.7 468.7h-3.2M350.7 479.6h-3.2M350.7 490.5h-3.2M350.7 501.4h-3.2M350.7 512.3h-3.2M350.7 523.2h-3.2M350.7 534.1h-3.2M350.7 545h-3.2" stroke="#4a4a4a" stroke-width="0.9"/>
<path d="M350.7 436H532.4V545" stroke="#666" stroke-width="1.15" fill="none"/>
<path d="M350.7 436V545H532.4" stroke="#4a4a4a" stroke-width="1.15" fill="none"/>
<text x="350.7" y="557.3" font-size="8" text-anchor="middle">0</text>
<text x="387.04" y="557.3" font-size="8" text-anchor="middle">300</text>
<text x="423.38" y="557.3" font-size="8" text-anchor="middle">600</text>
<text x="459.72" y="557.3" font-size="8" text-anchor="middle">900</text>
<text x="496.06" y="557.3" font-size="8" text-anchor="middle">1200</text>
<text x="532.4" y="557.3" font-size="8" text-anchor="middle">1500</text>
<path d="M350.7 545v2M387.04 545v2M423.38 545v2M459.72 545v2M496.06 545v2M532.4 545v2" stroke="#4a4a4a" stroke-width="0.9"/>
<text x="133.3" y="567.2" font-size="10.75">Baggage claim area</text>
<text x="78.9" y="579.71" font-size="9.2" text-anchor="end">Luggage</text>
<path d="M91.8 577.21H101.5M150.5 577.21H246" stroke="#555" stroke-width="1.0"/>
<path d="M91.8 574.01v6.4M246 574.01v6.4" stroke="#222" stroke-width="1.0"/>
<rect x="101.5" y="574.01" width="49" height="6.4" fill="#FBBB7C" stroke="#2a2a2a" stroke-width="0.95"/>
<path d="M113.6 574.01v6.4" stroke="#333" stroke-width="0.9"/>
<text x="78.9" y="590.54" font-size="9.2" text-anchor="end">Coat</text>
<path d="M92.2 588.04H98.5M110.4 588.04H125.5" stroke="#555" stroke-width="1.0"/>
<path d="M92.2 584.84v6.4M125.5 584.84v6.4" stroke="#222" stroke-width="1.0"/>
<rect x="98.5" y="584.84" width="11.9" height="6.4" fill="#FBBB7C" stroke="#2a2a2a" stroke-width="0.95"/>
<path d="M104.2 584.84v6.4" stroke="#333" stroke-width="0.9"/>
<text x="78.9" y="601.38" font-size="9.2" text-anchor="end">Mobile phone</text>
<path d="M92.2 598.88H102.7M123.6 598.88H193" stroke="#555" stroke-width="1.0"/>
<path d="M92.2 595.67v6.4M193 595.67v6.4" stroke="#222" stroke-width="1.0"/>
<rect x="102.7" y="595.67" width="20.9" height="6.4" fill="#FBBB7C" stroke="#2a2a2a" stroke-width="0.95"/>
<path d="M110.4 595.67v6.4" stroke="#333" stroke-width="0.9"/>
<text x="78.9" y="612.2" font-size="9.2" text-anchor="end">Backpack</text>
<path d="M90.9 609.7H101.8M120.9 609.7H191.9" stroke="#555" stroke-width="1.0"/>
<path d="M90.9 606.5v6.4M191.9 606.5v6.4" stroke="#222" stroke-width="1.0"/>
<rect x="101.8" y="606.5" width="19.1" height="6.4" fill="#FBBB7C" stroke="#2a2a2a" stroke-width="0.95"/>
<path d="M109.6 606.5v6.4" stroke="#333" stroke-width="0.9"/>
<text x="78.9" y="623.03" font-size="9.2" text-anchor="end">Body</text>
<path d="M90.5 620.53H93.4M108.5 620.53H142.7" stroke="#555" stroke-width="1.0"/>
<path d="M90.5 617.33v6.4M142.7 617.33v6.4" stroke="#222" stroke-width="1.0"/>
<rect x="93.4" y="617.33" width="15.1" height="6.4" fill="#F5736A" stroke="#2a2a2a" stroke-width="0.95"/>
<path d="M101.5 617.33v6.4" stroke="#333" stroke-width="0.9"/>
<text x="78.9" y="633.87" font-size="9.2" text-anchor="end">Reticule</text>
<path d="M92.2 631.37H94.3M142.7 631.37H169.6" stroke="#555" stroke-width="1.0"/>
<path d="M92.2 628.16v6.4M169.6 628.16v6.4" stroke="#222" stroke-width="1.0"/>
<rect x="94.3" y="628.16" width="48.4" height="6.4" fill="#FBBB7C" stroke="#2a2a2a" stroke-width="0.95"/>
<path d="M110.4 628.16v6.4" stroke="#333" stroke-width="0.9"/>
<text x="78.9" y="644.7" font-size="9.2" text-anchor="end">Hand</text>
<path d="M94.6 642.2H96M141.8 642.2H199.1" stroke="#555" stroke-width="1.0"/>
<path d="M94.6 639v6.4M199.1 639v6.4" stroke="#222" stroke-width="1.0"/>
<rect x="96" y="639" width="45.8" height="6.4" fill="#79AEDD" stroke="#2a2a2a" stroke-width="0.95"/>
<path d="M98.5 639v6.4" stroke="#333" stroke-width="0.9"/>
<text x="78.9" y="655.52" font-size="9.2" text-anchor="end">Trolley</text>
<path d="M89.5 653.02H91.1M103.3 653.02H112.5" stroke="#555" stroke-width="1.0"/>
<path d="M89.5 649.82v6.4M112.5 649.82v6.4" stroke="#222" stroke-width="1.0"/>
<rect x="91.1" y="649.82" width="12.2" height="6.4" fill="#84D8C9" stroke="#2a2a2a" stroke-width="0.95"/>
<path d="M93.2 649.82v6.4" stroke="#333" stroke-width="0.9"/>
<text x="78.9" y="666.36" font-size="9.2" text-anchor="end">Luggage signboard</text>
<path d="M92.8 663.86H92.8M161.4 663.86H193.2" stroke="#555" stroke-width="1.0"/>
<path d="M92.8 660.65v6.4M193.2 660.65v6.4" stroke="#222" stroke-width="1.0"/>
<rect x="92.8" y="660.65" width="68.6" height="6.4" fill="#FBBB7C" stroke="#2a2a2a" stroke-width="0.95"/>
<path d="M99.9 660.65v6.4" stroke="#333" stroke-width="0.9"/>
<text x="78.9" y="677.19" font-size="9.2" text-anchor="end">Mask</text>
<path d="M89 674.69H89M93.8 674.69H93.8" stroke="#555" stroke-width="1.0"/>
<path d="M89 671.49v6.4M93.8 671.49v6.4" stroke="#222" stroke-width="1.0"/>
<rect x="89" y="671.49" width="4.8" height="6.4" fill="#FBBB7C" stroke="#2a2a2a" stroke-width="0.95"/>
<path d="M91.4 671.49v6.4" stroke="#333" stroke-width="0.9"/>
<path d="M86.9 571.4h-3.2M86.9 582.23h-3.2M86.9 593.06h-3.2M86.9 603.89h-3.2M86.9 614.72h-3.2M86.9 625.55h-3.2M86.9 636.38h-3.2M86.9 647.21h-3.2M86.9 658.04h-3.2M86.9 668.87h-3.2M86.9 679.7h-3.2" stroke="#4a4a4a" stroke-width="0.9"/>
<path d="M86.9 571.4H262.5V679.7" stroke="#666" stroke-width="1.15" fill="none"/>
<path d="M86.9 571.4V679.7H262.5" stroke="#4a4a4a" stroke-width="1.15" fill="none"/>
<text x="86.9" y="692" font-size="8" text-anchor="middle">0</text>
<text x="122.02" y="692" font-size="8" text-anchor="middle">100</text>
<text x="157.14" y="692" font-size="8" text-anchor="middle">200</text>
<text x="192.26" y="692" font-size="8" text-anchor="middle">300</text>
<text x="227.38" y="692" font-size="8" text-anchor="middle">400</text>
<text x="262.5" y="692" font-size="8" text-anchor="middle">500</text>
<path d="M86.9 679.7v2M122.02 679.7v2M157.14 679.7v2M192.26 679.7v2M227.38 679.7v2M262.5 679.7v2" stroke="#4a4a4a" stroke-width="0.9"/>
<path d="M350.2 577.1H359.9M355.2 577.1V588.6M355.2 610.4V621.7M350.2 621.7H359.9" stroke="#1a1a1a" stroke-width="1.35" fill="none"/>
<rect x="350.7" y="588.6" width="8.5" height="21.8" fill="none" stroke="#1a1a1a" stroke-width="1.35"/>
<path d="M350.7 599.5H359.2" stroke="#1a1a1a" stroke-width="1.35"/>
<path d="M366.5 577.1H377.6" stroke="#555" stroke-width="0.9"/><path d="M365.2 577.1l2.8 -1.5v3z" fill="#111"/>
<text x="379.3" y="579.8" font-size="8.5">97.5th percentile</text>
<path d="M366.5 588.6H377.6" stroke="#555" stroke-width="0.9"/><path d="M365.2 588.6l2.8 -1.5v3z" fill="#111"/>
<text x="379.3" y="591.3" font-size="8.5">75th percentile</text>
<path d="M366.5 599.5H377.6" stroke="#555" stroke-width="0.9"/><path d="M365.2 599.5l2.8 -1.5v3z" fill="#111"/>
<text x="379.3" y="602.2" font-size="8.5">Median</text>
<path d="M366.5 610.2H377.6" stroke="#555" stroke-width="0.9"/><path d="M365.2 610.2l2.8 -1.5v3z" fill="#111"/>
<text x="379.3" y="612.9" font-size="8.5">25th percentile</text>
<path d="M366.5 621.7H377.6" stroke="#555" stroke-width="0.9"/><path d="M365.2 621.7l2.8 -1.5v3z" fill="#111"/>
<text x="379.3" y="624.4" font-size="8.5">2.5th percentile</text>
<rect x="350.2" y="633.4" width="10.8" height="4.8" fill="#79AEDD" stroke="#333" stroke-width="0.8"/>
<text x="366.5" y="639.1" font-size="9.9">Hand</text>
<rect x="350.2" y="647.1" width="10.8" height="4.8" fill="#F5736A" stroke="#333" stroke-width="0.8"/>
<text x="366.5" y="652.8" font-size="9.9">Body</text>
<rect x="350.2" y="660.6" width="10.8" height="4.8" fill="#FBBB7C" stroke="#333" stroke-width="0.8"/>
<text x="366.5" y="666.3" font-size="9.9">Private surface</text>
<rect x="350.2" y="674.3" width="10.8" height="4.8" fill="#84D8C9" stroke="#333" stroke-width="0.8"/>
<text x="366.5" y="680" font-size="9.9">Public surface</text>
<text x="229.6" y="711.8" font-size="12.35">Touch frequency (times/hour)</text>
<text x="266.8" y="735.6" font-size="12">(<tspan font-weight="bold">a</tspan>)</text>
</svg>
</body></html>
